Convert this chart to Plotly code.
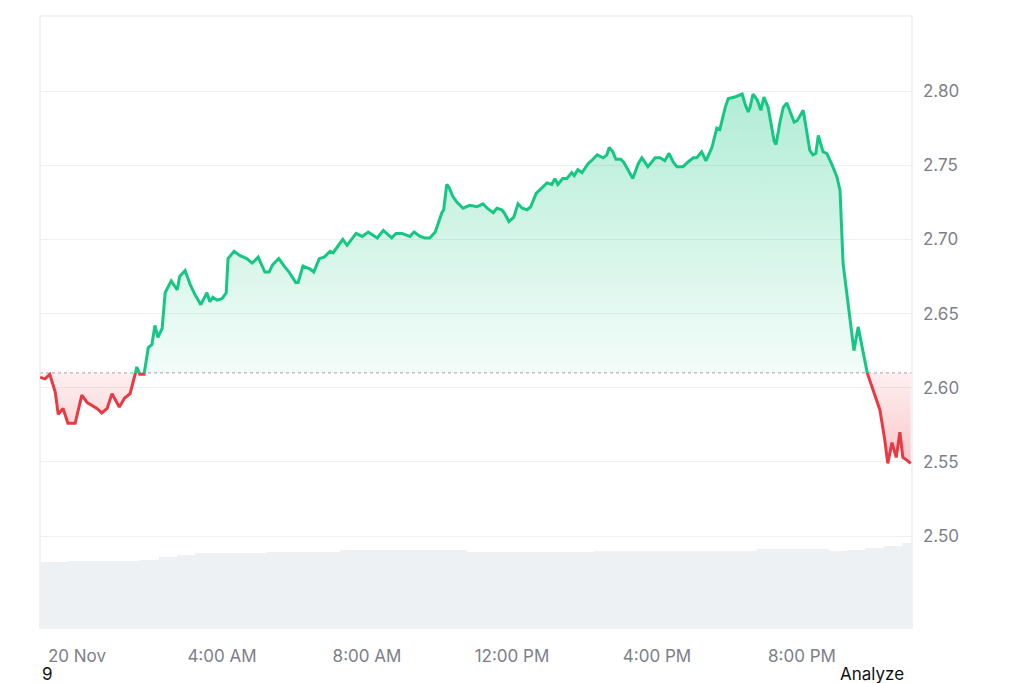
import pandas as pd
import plotly.graph_objects as go

DAY = "2024-11-20"

# price samples: minutes from 20 Nov 00:00, price in USD
minutes = [-61, -53, -45, -36, -31, -23, -15, -3, 8, 17, 33, 41, 50, 58, 70, 79, 88, 93, 99, 104,
           111, 118, 124, 129, 134, 141, 146, 156, 166, 170, 179, 187, 195, 205, 215, 220, 225, 232, 240, 247,
           250, 260, 270, 281, 290, 300, 311, 318, 324, 334, 343, 351, 362, 366, 374, 386, 392, 401, 409, 419,
           424, 440, 447, 462, 472, 482, 497, 507, 521, 528, 538, 551, 558, 568, 576, 584, 593, 604, 607, 612,
           616, 622, 629, 639, 650, 662, 672, 679, 689, 695, 703, 707, 715, 723, 730, 737, 745, 751, 760, 770,
           778, 786, 791, 796, 804, 811, 819, 823, 829, 836, 841, 846, 854, 861, 871, 877, 881, 887, 892, 900,
           905, 912, 920, 929, 935, 945, 957, 965, 973, 980, 987, 993, 1003, 1011, 1020, 1026, 1034, 1041, 1051, 1059,
           1064, 1073, 1078, 1089, 1101, 1106, 1111, 1114, 1119, 1126, 1132, 1137, 1144, 1154, 1157, 1164, 1169, 1175, 1187, 1192,
           1202, 1213, 1218, 1223, 1227, 1235, 1241, 1250, 1258, 1263, 1268, 1275, 1283, 1286, 1293, 1308, 1329, 1337, 1342, 1349,
           1356, 1362, 1367, 1374, 1380]
prices = [2.607, 2.606, 2.609, 2.597, 2.582, 2.586, 2.576, 2.576, 2.595, 2.590, 2.586, 2.583, 2.586, 2.596, 2.587, 2.593, 2.596, 2.603, 2.614, 2.609,
          2.609, 2.627, 2.629, 2.642, 2.634, 2.640, 2.664, 2.672, 2.666, 2.675, 2.679, 2.670, 2.663, 2.656, 2.664, 2.658, 2.661, 2.659, 2.660, 2.664,
          2.687, 2.692, 2.689, 2.687, 2.684, 2.688, 2.678, 2.678, 2.683, 2.687, 2.682, 2.678, 2.671, 2.671, 2.682, 2.680, 2.678, 2.687, 2.688, 2.692,
          2.691, 2.700, 2.696, 2.704, 2.702, 2.705, 2.701, 2.706, 2.701, 2.704, 2.704, 2.702, 2.705, 2.702, 2.701, 2.701, 2.705, 2.718, 2.720, 2.737,
          2.735, 2.729, 2.725, 2.721, 2.723, 2.722, 2.724, 2.721, 2.718, 2.721, 2.720, 2.718, 2.712, 2.715, 2.724, 2.721, 2.720, 2.722, 2.731, 2.735,
          2.738, 2.737, 2.741, 2.737, 2.741, 2.741, 2.745, 2.743, 2.747, 2.745, 2.748, 2.751, 2.754, 2.757, 2.755, 2.757, 2.762, 2.759, 2.754, 2.754,
          2.752, 2.747, 2.741, 2.751, 2.755, 2.749, 2.755, 2.755, 2.753, 2.758, 2.752, 2.749, 2.749, 2.752, 2.755, 2.755, 2.759, 2.753, 2.762, 2.775,
          2.774, 2.789, 2.795, 2.796, 2.798, 2.791, 2.786, 2.789, 2.798, 2.794, 2.787, 2.796, 2.789, 2.766, 2.764, 2.780, 2.789, 2.792, 2.779, 2.780,
          2.787, 2.760, 2.757, 2.758, 2.770, 2.759, 2.758, 2.750, 2.742, 2.733, 2.684, 2.661, 2.634, 2.625, 2.641, 2.610, 2.585, 2.565, 2.549, 2.563,
          2.553, 2.570, 2.553, 2.551, 2.549]
baseline_price = 2.610

# 24h volume (billion USD), one bar every 30 minutes starting 19 Nov 23:00
volumes = [0.869, 0.869, 0.873, 0.876, 0.880, 0.882, 0.895, 0.928, 0.954, 0.976,
           0.976, 0.976, 0.976, 0.997, 0.997, 0.997, 0.997, 1.020, 1.020, 1.020,
           1.020, 1.020, 1.020, 1.020, 0.990, 0.990, 0.990, 0.990, 0.990, 0.990,
           0.990, 1.010, 1.010, 1.010, 1.010, 1.010, 1.010, 1.010, 1.010, 1.010,
           1.033, 1.033, 1.033, 1.033, 1.010, 1.020, 1.046, 1.078, 1.111]
vol_start_minute = -60
vol_step_minutes = 30

x_tick_minutes = [0, 240, 480, 720, 960, 1200]
x_tick_labels = ["20 Nov", "4:00 AM", "8:00 AM", "12:00 PM", "4:00 PM", "8:00 PM"]
y_tick_values = [2.50, 2.55, 2.60, 2.65, 2.70, 2.75, 2.80]
y_tick_labels = ["2.50", "2.55", "2.60", "2.65", "2.70", "2.75", "2.80"]
view_minutes = [-61.2, 1382.1]

GREEN = "#16c784"
RED = "#ea3943"
base_ts = pd.Timestamp(DAY)


def to_ts(mins):
    return list(base_ts + pd.to_timedelta(mins, unit="min"))


# insert baseline-crossing points so colours switch exactly at the baseline
aug_t, aug_p = [], []
for i, (m, v) in enumerate(zip(minutes, prices)):
    if i > 0:
        a = prices[i - 1] - baseline_price
        b = v - baseline_price
        if a * b < 0:
            f = a / (a - b)
            aug_t.append(minutes[i - 1] + f * (m - minutes[i - 1]))
            aug_p.append(baseline_price)
    aug_t.append(m)
    aug_p.append(v)

ts = to_ts(aug_t)
above = [max(v, baseline_price) for v in aug_p]
below = [min(v, baseline_price) for v in aug_p]
green_line = [v if v >= baseline_price else None for v in aug_p]
red_line = [v if v <= baseline_price else None for v in aug_p]
base_line = [baseline_price] * len(aug_p)

vol_ts = to_ts([vol_start_minute + vol_step_minutes * i for i in range(len(volumes))])

fig = go.Figure()

fig.add_trace(go.Bar(x=vol_ts, y=volumes, yaxis="y2", marker=dict(color="#eef1f4", line=dict(width=0)),
                     hoverinfo="skip", showlegend=False))

fig.add_trace(go.Scatter(x=ts, y=base_line, mode="lines", line=dict(width=0), hoverinfo="skip", showlegend=False))
fig.add_trace(go.Scatter(x=ts, y=above, mode="lines", line=dict(width=0), fill="tonexty",
                         fillgradient=dict(type="vertical",
                                           colorscale=[[0, "rgba(22,199,132,0.05)"], [1, "rgba(22,199,132,0.33)"]]),
                         hoverinfo="skip", showlegend=False))
fig.add_trace(go.Scatter(x=ts, y=base_line, mode="lines", line=dict(width=0), hoverinfo="skip", showlegend=False))
fig.add_trace(go.Scatter(x=ts, y=below, mode="lines", line=dict(width=0), fill="tonexty",
                         fillgradient=dict(type="vertical",
                                           colorscale=[[0, "rgba(234,57,67,0.28)"], [1, "rgba(234,57,67,0.08)"]]),
                         hoverinfo="skip", showlegend=False))

fig.add_trace(go.Scatter(x=ts, y=green_line, mode="lines", line=dict(color=GREEN, width=3),
                         connectgaps=False, showlegend=False))
fig.add_trace(go.Scatter(x=ts, y=red_line, mode="lines", line=dict(color=RED, width=3),
                         connectgaps=False, showlegend=False))

# page body adds an 8px offset, so the figure is 8px smaller and margins shifted accordingly
fig.update_layout(
    width=1016, height=675,
    margin=dict(l=32, r=112, t=8, b=55),
    paper_bgcolor="white", plot_bgcolor="white",
    font=dict(family="Inter, Roboto, sans-serif", color="#7d8088", size=17),
    bargap=0,
    xaxis=dict(range=to_ts(view_minutes), tickvals=to_ts(x_tick_minutes), ticktext=x_tick_labels,
               showgrid=False, zeroline=False, showline=False, ticks="", ticklabelstandoff=16,
               tickfont=dict(size=17, color="#7d8088")),
    yaxis=dict(range=[2.438, 2.8506], side="right", tickvals=y_tick_values, ticktext=y_tick_labels,
               showgrid=True, gridcolor="#eef0f3", gridwidth=1, zeroline=False, showline=False,
               ticks="", ticklabelstandoff=10, tickfont=dict(size=17, color="#7d8088")),
    yaxis2=dict(range=[0, 8], overlaying="y", visible=False),
    shapes=[
        dict(type="line", xref="paper", x0=0, x1=1, yref="y", y0=baseline_price, y1=baseline_price,
             line=dict(color="#9ea3aa", width=1, dash="dot"), layer="below"),
        dict(type="rect", xref="paper", yref="paper", x0=0, x1=1, y0=0, y1=1,
             line=dict(color="#eceef1", width=1.5), fillcolor="rgba(0,0,0,0)", layer="below"),
    ],
    annotations=[
        dict(text="9", xref="paper", yref="paper", x=0, y=-0.075, xanchor="left", yanchor="middle",
             showarrow=False, font=dict(size=17, color="#111111")),
        dict(text="Analyze", xref="paper", yref="paper", x=0.993, y=-0.075, xanchor="right", yanchor="middle",
             showarrow=False, font=dict(size=17, color="#111111")),
    ],
)

fig.write_html("out.html")
